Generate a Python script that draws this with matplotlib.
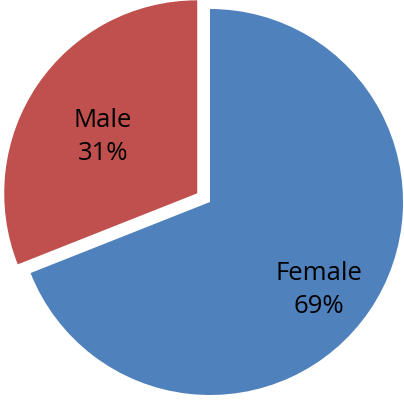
import numpy as np
import matplotlib
matplotlib.use("Agg")
import matplotlib.pyplot as plt

labels = ["Female", "Male"]
values = [69, 31]
colors = ["#4F81BD", "#C0504D"]
explode = [0, 0.08]

fig = plt.figure(figsize=(4.04, 4.0), dpi=100)
# pie centre at (210,202) px, radius ~193 px
R = 193
ax = fig.add_axes([0, 0, 1, 1])

wedges, _ = ax.pie(values, colors=colors, explode=explode, startangle=90,
                   counterclock=False, radius=1.0, labels=None,
                   wedgeprops=dict(linewidth=0))
ax.set_xlim(-210 / R, (404 - 210) / R)
ax.set_ylim(-(400 - 202) / R, 202 / R)
ax.set_aspect("equal")
ax.axis("off")

label_dist = [0.725, 0.57]
label_dang = [-4.7, 3.4]
total = sum(values)
start = 90
for i, (lab, v) in enumerate(zip(labels, values)):
    ang = start - 360 * v / total / 2
    start -= 360 * v / total
    t = np.deg2rad(ang)
    cx = explode[i] * np.cos(t)
    cy = explode[i] * np.sin(t)
    tl = np.deg2rad(ang + label_dang[i])
    x = cx + label_dist[i] * np.cos(tl)
    y = cy + label_dist[i] * np.sin(tl)
    ax.text(x, y, f"{lab}\n{v}%", ha="center", va="center", fontsize=18.5,
            family="Open Sans", color="black", linespacing=1.45)

fig.savefig("out.png", dpi=100)
